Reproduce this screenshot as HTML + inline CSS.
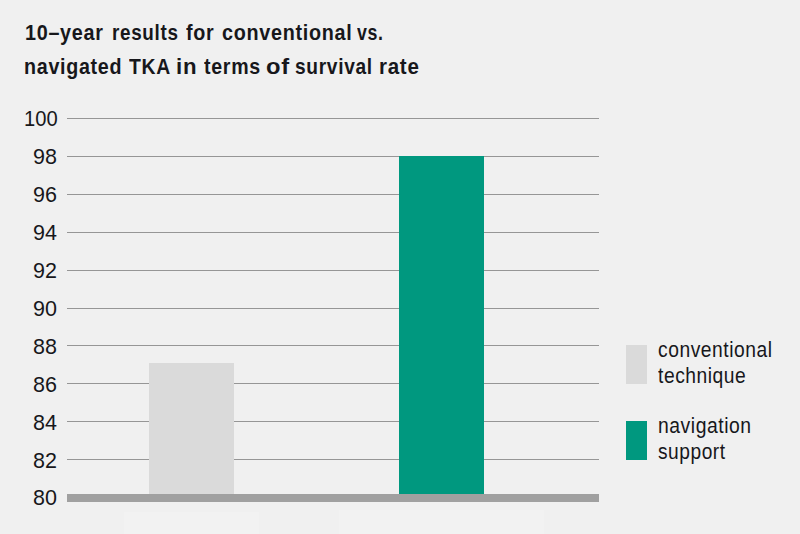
<!DOCTYPE html>
<html>
<head>
<meta charset="utf-8">
<style>
html,body{margin:0;padding:0;}
body{width:800px;height:534px;overflow:hidden;background:#f0f0f0;position:relative;font-family:"Liberation Sans",sans-serif;color:#17171b;}
.a{position:absolute;}
.t{position:absolute;white-space:nowrap;transform-origin:0 0;}
.g{position:absolute;left:67px;width:532px;height:1px;background:#969696;}
</style>
</head>
<body>
<div class="a" style="left:124px;top:512px;width:135px;height:22px;background:#f2f2f2"></div>
<div class="a" style="left:339px;top:510px;width:205px;height:24px;background:#f2f2f2"></div>
<div class="g" style="top:118px"></div>
<div class="g" style="top:156px"></div>
<div class="g" style="top:194px"></div>
<div class="g" style="top:232px"></div>
<div class="g" style="top:270px"></div>
<div class="g" style="top:308px"></div>
<div class="g" style="top:345px"></div>
<div class="g" style="top:383px"></div>
<div class="g" style="top:421px"></div>
<div class="g" style="top:459px"></div>
<div class="a" style="left:149px;top:363px;width:85px;height:131px;background:#dadada"></div>
<div class="a" style="left:399px;top:156px;width:85px;height:338px;background:#00987f"></div>
<div class="a" style="left:67px;top:494px;width:532px;height:8px;background:#a0a0a0"></div>
<div class="a" style="left:626px;top:345px;width:21px;height:39px;background:#dadada"></div>
<div class="a" style="left:626px;top:421px;width:21px;height:39px;background:#00987f"></div>
<div class="t" style="left:25.12px;top:22px;font-size:22.5px;font-weight:bold;line-height:22.5px;letter-spacing:0.8px;transform:scaleX(0.8793)">10–year</div>
<div class="t" style="left:111.66px;top:22px;font-size:22.5px;font-weight:bold;line-height:22.5px;letter-spacing:0.8px;transform:scaleX(0.8382)">results</div>
<div class="t" style="left:185.60px;top:22px;font-size:22.5px;font-weight:bold;line-height:22.5px;letter-spacing:0.8px;transform:scaleX(0.8767)">for</div>
<div class="t" style="left:221.62px;top:22px;font-size:22.5px;font-weight:bold;line-height:22.5px;letter-spacing:0.8px;transform:scaleX(0.8785)">conventional</div>
<div class="t" style="left:357.00px;top:22px;font-size:22.5px;font-weight:bold;line-height:22.5px;letter-spacing:0.8px;transform:scaleX(0.7903)">vs.</div>
<div class="t" style="left:24.12px;top:56px;font-size:22.5px;font-weight:bold;line-height:22.5px;letter-spacing:0.8px;transform:scaleX(0.8750)">navigated</div>
<div class="t" style="left:129.40px;top:56px;font-size:22.5px;font-weight:bold;line-height:22.5px;letter-spacing:0.8px;transform:scaleX(0.8609)">TKA</div>
<div class="t" style="left:176.22px;top:56px;font-size:22.5px;font-weight:bold;line-height:22.5px;letter-spacing:0.8px;transform:scaleX(0.9875)">in</div>
<div class="t" style="left:203.60px;top:56px;font-size:22.5px;font-weight:bold;line-height:22.5px;letter-spacing:0.8px;transform:scaleX(0.8714)">terms</div>
<div class="t" style="left:266.44px;top:56px;font-size:22.5px;font-weight:bold;line-height:22.5px;letter-spacing:0.8px;transform:scaleX(1.0550)">of</div>
<div class="t" style="left:294.85px;top:56px;font-size:22.5px;font-weight:bold;line-height:22.5px;letter-spacing:0.8px;transform:scaleX(0.8506)">survival</div>
<div class="t" style="left:379.29px;top:56px;font-size:22.5px;font-weight:bold;line-height:22.5px;letter-spacing:0.8px;transform:scaleX(0.9122)">rate</div>
<div class="t" style="left:658.10px;top:340px;font-size:21.5px;font-weight:normal;line-height:21.5px;letter-spacing:0.6px;transform:scaleX(0.8952)">conventional</div>
<div class="t" style="left:658.00px;top:366px;font-size:21.5px;font-weight:normal;line-height:21.5px;letter-spacing:0.6px;transform:scaleX(0.8958)">technique</div>
<div class="t" style="left:658.10px;top:416px;font-size:21.5px;font-weight:normal;line-height:21.5px;letter-spacing:0.6px;transform:scaleX(0.9000)">navigation</div>
<div class="t" style="left:658.11px;top:442px;font-size:21.5px;font-weight:normal;line-height:21.5px;letter-spacing:0.6px;transform:scaleX(0.8904)">support</div>
<div class="t" style="left:24.12px;top:109px;font-size:21.5px;line-height:21.5px;transform:scaleX(0.9375)">100</div>
<div class="t" style="left:33.00px;top:147px;font-size:21.5px;line-height:21.5px;transform:scaleX(1.0000)">98</div>
<div class="t" style="left:33.00px;top:185px;font-size:21.5px;line-height:21.5px;transform:scaleX(1.0000)">96</div>
<div class="t" style="left:33.00px;top:223px;font-size:21.5px;line-height:21.5px;transform:scaleX(1.0000)">94</div>
<div class="t" style="left:33.00px;top:261px;font-size:21.5px;line-height:21.5px;transform:scaleX(1.0000)">92</div>
<div class="t" style="left:33.00px;top:299px;font-size:21.5px;line-height:21.5px;transform:scaleX(1.0000)">90</div>
<div class="t" style="left:33.00px;top:337px;font-size:21.5px;line-height:21.5px;transform:scaleX(1.0000)">88</div>
<div class="t" style="left:33.00px;top:375px;font-size:21.5px;line-height:21.5px;transform:scaleX(1.0000)">86</div>
<div class="t" style="left:33.00px;top:413px;font-size:21.5px;line-height:21.5px;transform:scaleX(1.0000)">84</div>
<div class="t" style="left:33.00px;top:451px;font-size:21.5px;line-height:21.5px;transform:scaleX(1.0000)">82</div>
<div class="t" style="left:33.00px;top:488px;font-size:21.5px;line-height:21.5px;transform:scaleX(1.0000)">80</div>
</body>
</html>
